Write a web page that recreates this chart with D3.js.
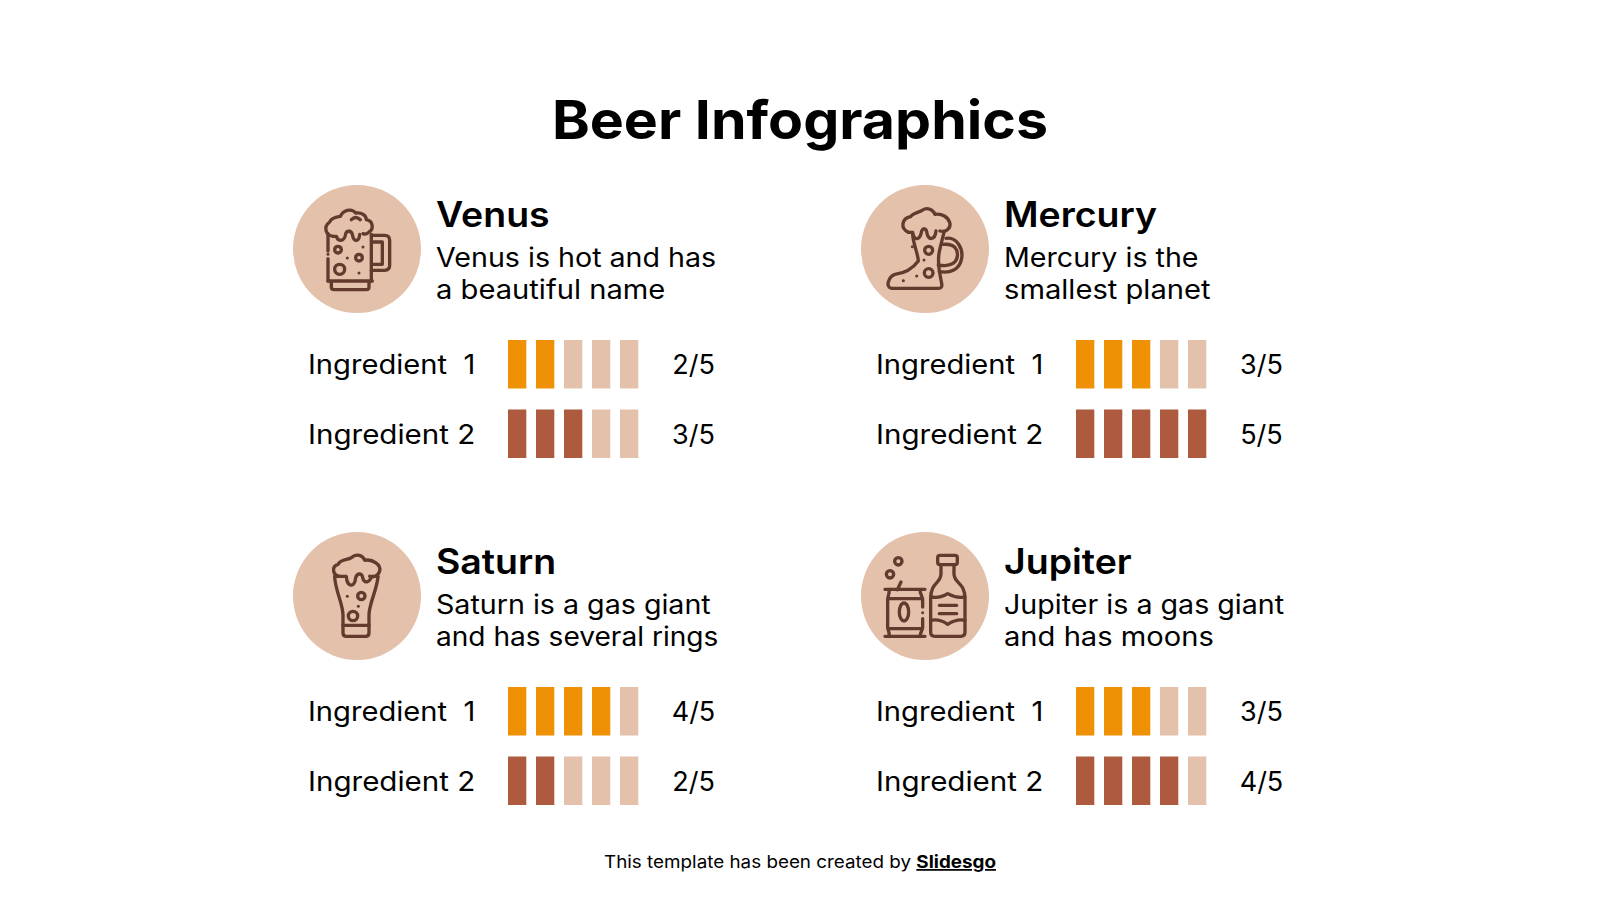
<!DOCTYPE html>
<meta charset="utf-8">
<style>
  html, body { margin: 0; background: #fff; }
  text { font-family: Inter, "Noto Sans", sans-serif; fill: #000; }
</style>
<body>
  <svg width="1600" height="900"></svg>
  <script src="https://cdn.jsdelivr.net/npm/d3@7"></script>
  <script>
    // chart values
    const planets = ["Venus", "Mercury", "Saturn", "Jupiter"];
    const firstLines = ["Venus is hot and has", "Mercury is the", "Saturn is a gas giant", "Jupiter is a gas giant"];
    const secondLines = ["a beautiful name", "smallest planet", "and has several rings", "and has moons"];
    const ingredientOne = [2, 3, 4, 3];
    const ingredientTwo = [3, 5, 2, 4];
    const ingredientNames = ["Ingredient  1", "Ingredient 2"];
    const maxScore = 5;

    const peach = "#e4c1ab", orange = "#ef9104", brown = "#ad5a3f", ink = "#633a2e";

    const svg = d3.select("svg");

    // Inter is narrower than the slide's font, so widen labels by a factor
    const label = (parent, x, y, str, size, weight, anchor, stretch) => {
      const t = parent.append("text")
        .attr("x", x).attr("y", y)
        .attr("text-anchor", anchor || "start")
        .attr("font-size", size).attr("font-weight", weight || 400)
        .style("white-space", "pre")
        .text(str);
      t.attr("textLength", t.node().getComputedTextLength() * (stretch || 1.08)).attr("lengthAdjust", "spacingAndGlyphs");
      return t;
    };

    label(svg, 800, 139, "Beer Infographics", 54, 700, "middle", 1.06);

    const footer = svg.append("text").attr("x", 800).attr("y", 868).attr("text-anchor", "middle").attr("font-size", 17.6);
    footer.append("tspan").text("This template has been created by ");
    footer.append("tspan").attr("font-weight", 700).attr("text-decoration", "underline").text("Slidesgo");
    footer.attr("textLength", footer.node().getComputedTextLength() * 1.07).attr("lengthAdjust", "spacingAndGlyphs");

    // icons, local units are a third of a pixel
    const icons = [
      {
        origin: [283, 177],
        paths: ["M150 178C128 175 120 150 140 135C145 122 160 120 172 118C180 100 205 92 218 108C235 105 250 115 250 128C268 130 275 155 258 165C252 172 245 172 240 170",
          "M150 178H160C165 195 185 195 188 170C192 160 205 160 208 172C212 198 228 195 230 172",
          "M135 170V222M135 245V312M265 172V312",
          "M145 312H258V330Q258 338 250 338H153Q145 338 145 330ZM135 312H268",
          "M265 175H305Q320 175 320 190V265Q320 280 305 280H265M268 195H298V262H268",
          "M205 128Q218 115 232 128"],
        rings: [[165, 218, 10], [228, 242, 10], [170, 277, 15]],
        dots: [[193, 243], [240, 210], [228, 288], [135, 232]]
      },
      {
        origin: [272, 175],
        paths: ["M205 172C180 160 185 130 212 125C220 112 240 112 248 105C262 95 280 105 285 118C305 115 325 125 330 145C333 162 315 172 300 168",
          "M205 172H218C222 198 240 198 245 168C250 158 258 160 260 170C265 200 285 195 288 168",
          "M218 180C222 215 235 240 235 258C215 285 190 295 165 298C145 305 135 338 155 340H295Q308 340 305 325C298 290 292 260 298 230C303 205 308 190 312 172",
          "M318 190C350 185 370 220 365 250C360 285 330 295 298 290M310 208C345 205 355 225 352 245C348 268 325 275 295 270"],
        rings: [[266, 226, 12], [266, 294, 13]],
        dots: [[217, 215], [252, 255], [230, 303], [190, 317]]
      },
      {
        origin: [283, 170],
        paths: ["M170 178C148 175 145 148 165 142C175 125 195 130 205 122C220 108 240 115 245 130C270 125 295 145 290 162C285 178 270 182 260 178",
          "M155 178H190C192 210 215 215 218 182C222 168 235 168 238 178C242 205 262 195 265 178H285",
          "M155 180C158 225 180 260 180 295V348Q180 358 190 358H248Q258 358 258 348V295C258 260 280 225 285 180",
          "M180 325H258"],
        rings: [[235, 237, 11], [210, 297, 14]],
        dots: [[193, 238], [226, 268]]
      },
      {
        origin: [272, 170],
        paths: ["M183 195L172 218M135 217H255M135 358H255",
          "M148 217C148 235 143 235 143 250V330C143 340 148 340 148 358M240 217C240 235 248 235 248 250V270M248 305V330C248 340 243 340 240 358",
          "M145 245H245M145 335H245",
          "M303 143H300Q293 143 293 135V122Q293 115 300 115H345Q352 115 352 122V135Q352 143 345 143H303",
          "M303 143V170C303 200 272 195 272 245V345Q272 358 285 358H362Q375 358 375 345V245C375 195 342 200 342 170V143",
          "M272 240Q300 245 323 230Q350 245 375 240M272 310Q300 305 323 322Q350 305 375 310",
          "M298 265H350M298 290H350"],
        rings: [[175, 133, 11], [150, 172, 11]],
        ovals: [[192, 285, 14, 27]],
        dots: [[248, 287]]
      }
    ];

    const cardX = d3.scaleBand().domain([0, 1]).range([0, 1136]).paddingInner(0);
    const cardY = d3.scaleBand().domain([0, 1]).range([0, 694]).paddingInner(0);
    const slotX = d3.scaleBand().domain(d3.range(maxScore)).range([508, 638.3]).paddingInner(0.346);

    const cards = svg.selectAll(".card")
      .data(planets)
      .enter().append("g")
      .attr("class", "card")
      .attr("transform", (d, i) => "translate(" + cardX(i % 2) + "," + cardY(Math.floor(i / 2)) + ")");

    cards.each(function (name, i) {
      const card = d3.select(this);
      card.append("circle").attr("cx", 357).attr("cy", 249).attr("r", 64).attr("fill", peach);

      const icon = card.append("g")
        .attr("transform", "translate(" + icons[i].origin + ") scale(0.3333)")
        .attr("fill", "none").attr("stroke", ink).attr("stroke-width", 10)
        .attr("stroke-linecap", "round").attr("stroke-linejoin", "round");
      icons[i].paths.forEach(d => icon.append("path").attr("d", d));
      icons[i].rings.forEach(c => icon.append("circle").attr("cx", c[0]).attr("cy", c[1]).attr("r", c[2]));
      (icons[i].ovals || []).forEach(c => icon.append("ellipse").attr("cx", c[0]).attr("cy", c[1]).attr("rx", c[2]).attr("ry", c[3]));
      icons[i].dots.forEach(c => icon.append("circle").attr("cx", c[0]).attr("cy", c[1]).attr("r", 4.5).attr("fill", ink).attr("stroke", "none"));

      label(card, 436, 227, name, 35, 600, "start", 1.07);
      label(card, 436, 267, firstLines[i], 26.5, 400, "start", 1.08);
      // the long Saturn line runs narrower than the others on the slide
      label(card, 436, 299, secondLines[i], 26.5, 400, "start", i === 2 ? 1.06 : 1.1);

      [ingredientOne[i], ingredientTwo[i]].forEach((score, row) => {
        const top = 340 + row * 69.5;
        label(card, 308, top + 33.5 + row * 0.7, ingredientNames[row], 26.5, 400, "start", row === 0 ? 1.1 : 1.115);
        card.selectAll(".slot" + row)
          .data(d3.range(maxScore))
          .enter().append("rect")
          .attr("class", "slot" + row)
          .attr("x", d => slotX(d))
          .attr("y", top)
          .attr("width", slotX.bandwidth())
          .attr("height", 48.5)
          .attr("fill", d => d < score ? (row === 0 ? orange : brown) : peach);
        label(card, 693.5, top + 33.5 + row * 0.7, score + "/" + maxScore, 26.5, 400, "middle", 1.02);
      });
    });
  </script>
</body>
